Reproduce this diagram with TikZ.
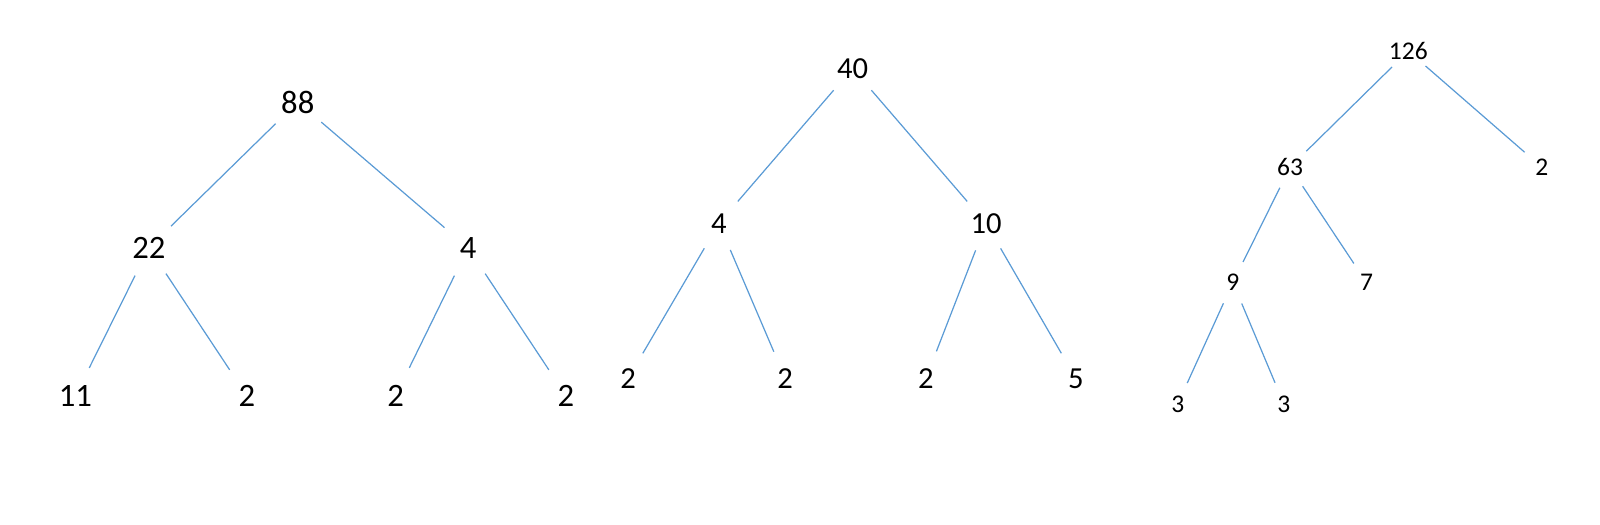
\documentclass[tikz,border=0pt]{standalone}
\usepackage{fontspec}
\setmainfont{Carlito}
\begin{document}
\begin{tikzpicture}[x=0.5pt,y=-0.5pt,
  ta/.style={circle,inner sep=0pt,minimum size=30pt,font=\fontsize{16}{16}\selectfont},
  tb/.style={circle,inner sep=0pt,minimum size=28pt,font=\fontsize{15}{15}\selectfont},
  tc/.style={circle,inner sep=0pt,minimum size=22pt,font=\fontsize{12.5}{13}\selectfont},
  edge/.style={color={rgb,255:red,91;green,155;blue,213},line width=0.6pt}]
\useasboundingbox (0,0) rectangle (1569,514);
\node[ta] (a) at (292,100) {88};
\node[ta] (a1) at (146,243) {22};
\node[ta] (a2) at (459,243) {4};
\node[ta] (a11) at (74,388) {11};
\node[ta] (a12) at (242,388) {2};
\node[ta] (a21) at (388,388) {2};
\node[ta] (a22) at (555,388) {2};
\foreach \p/\c in {a/a1,a/a2,a1/a11,a1/a12,a2/a21,a2/a22} \draw[edge] (\p) -- (\c);
\node[tb] (b) at (836,67) {40};
\node[tb] (b1) at (705,219) {4};
\node[tb] (b2) at (967,219) {10};
\node[tb] (b11) at (616,371) {2};
\node[tb] (b12) at (770,371) {2};
\node[tb] (b21) at (908,371) {2};
\node[tb] (b22) at (1055,371) {5};
\foreach \p/\c in {b/b1,b/b2,b1/b11,b1/b12,b2/b21,b2/b22} \draw[edge] (\p) -- (\c);
\node[tc] (c) at (1381,50) {126};
\node[tc] (c1) at (1265,164) {63};
\node[tc] (c2) at (1512,164) {2};
\node[tc] (c11) at (1209,277) {9};
\node[tc] (c12) at (1340,277) {7};
\node[tc] (c111) at (1155,396) {3};
\node[tc] (c112) at (1259,396) {3};
\foreach \p/\c in {c/c1,c/c2,c1/c11,c1/c12,c11/c111,c11/c112} \draw[edge] (\p) -- (\c);
\end{tikzpicture}
\end{document}
